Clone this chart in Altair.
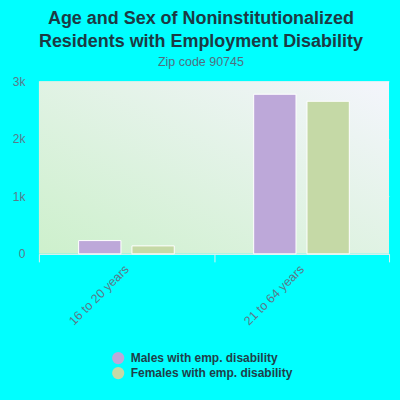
import altair as alt
import pandas as pd

categories = ["16 to 20 years", "21 to 64 years"]
series = ["Males with emp. disability", "Females with emp. disability"]
males = [231, 2775]
females = [139, 2653]
colors = ["#bda8d9", "#c5d9a6"]

rows = []
for i, c in enumerate(categories):
    rows.append({"age": c, "sex": series[0], "value": males[i]})
    rows.append({"age": c, "sex": series[1], "value": females[i]})
df = pd.DataFrame(rows)

W, H = 351, 173

bg = alt.Chart(pd.DataFrame({"a": [0]})).mark_rect(
    fill={"gradient": "linear", "x1": 0, "y1": 1, "x2": 1, "y2": 0,
          "stops": [{"offset": 0, "color": "#cdf0cc"},
                    {"offset": 1, "color": "#f4f5fc"}]}
).encode(x=alt.value(0), x2=alt.value(W), y=alt.value(0), y2=alt.value(H))

bars = alt.Chart(df).mark_bar(stroke="white", strokeWidth=1).encode(
    x=alt.X("age:N", sort=categories, title=None,
            scale=alt.Scale(paddingInner=0, paddingOuter=0),
            axis=alt.Axis(labelAngle=-45, labelAlign="right", labelBaseline="middle",
                          labelColor="#5a7a8a", labelFontSize=12.5, labelFont="Arial",
                          tickBand="extent", tickColor="#e0f0f0", tickSize=8,
                          domainColor="#e0f0f0", labelPadding=5)),
    xOffset=alt.XOffset("sex:N", sort=series,
                        scale=alt.Scale(paddingInner=0.206, paddingOuter=0.745)),
    y=alt.Y("value:Q", title=None,
            scale=alt.Scale(domain=[0, 3000]),
            axis=alt.Axis(values=[0, 1000, 2000, 3000],
                          labelExpr="datum.value == 0 ? '0' : (datum.value/1000) + 'k'",
                          labelColor="#5a7a8a", labelFontSize=12, labelFont="Arial",
                          domain=False, ticks=False, labelPadding=14,
                          gridColor="#dde8e0", gridOpacity=0.8)),
    color=alt.Color("sex:N", sort=series, title=None,
                    scale=alt.Scale(domain=series, range=colors),
                    legend=alt.Legend(orient="none", legendX=73, legendY=271,
                                      direction="vertical",
                                      symbolType="circle", symbolSize=150,
                                      symbolStrokeWidth=0, labelOffset=6,
                                      labelLimit=300,
                                      labelFont="Arial", labelFontSize=12,
                                      labelFontWeight="bold", labelColor="#1f3f4a",
                                      rowPadding=2)),
)

chart = alt.layer(bg, bars).properties(
    width=W, height=H,
    background="#00ffff",
    padding={"left": 12, "top": 9, "right": 10, "bottom": 25},
    title=alt.TitleParams(
        text=["Age and Sex of Noninstitutionalized", "Residents with Employment Disability"],
        subtitle="Zip code 90745",
        font="Arial", fontSize=18, fontWeight="bold", color="#1c3a44",
        subtitleFont="Arial", subtitleFontSize=12.5, subtitleColor="#4f6f7f",
        anchor="middle", lineHeight=23, subtitlePadding=5, offset=7,
        frame="bounds"),
).configure_view(stroke=None)

chart.save("out.html", embed_options={"renderer": "svg", "actions": False})
